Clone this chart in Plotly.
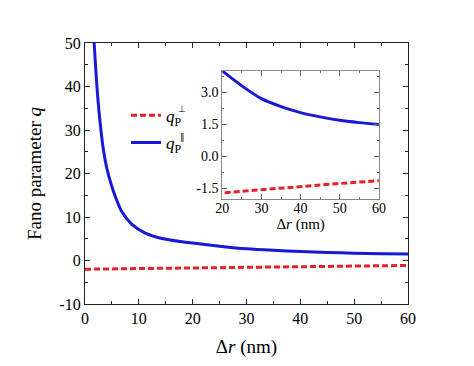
import plotly.graph_objects as go

# Data
r_par = [1.7, 2.2, 2.7, 3.3, 4.0, 4.8, 5.6, 6.8, 8.7, 11.2, 14.3, 18, 20, 25, 30, 35, 40, 45, 50, 55, 60]
q_par = [50, 40.3, 33, 26.5, 21.5, 17.8, 14.8, 11.3, 8.3, 6.3, 5.05, 4.3, 4.0, 3.3, 2.7, 2.33,
         2.05, 1.85, 1.69, 1.58, 1.49]
r_perp = [0, 10, 20, 30, 40, 50, 60]
q_perp = [-2.0, -1.85, -1.70, -1.55, -1.41, -1.27, -1.14]
y_ticks = [-10, 0, 10, 20, 30, 40, 50]
y_ticktext = ["-10", "0", "10", "20", "30", "40", "50"]
y2_ticks = [-1.5, 0.0, 1.5, 3.0]
y2_ticktext = ["-1.5", "0.0", "1.5", "3.0"]

RED = "#e8202a"
BLUE = "#1818d6"
FONT = "Liberation Serif"

fig = go.Figure()
fig.add_trace(go.Scatter(x=r_perp, y=q_perp, mode="lines", name="<i>q</i><sub>P</sub>",
                         legendgroup="a",
                         line=dict(color=RED, width=3, dash="6px,3px")))
fig.add_trace(go.Scatter(x=r_par, y=q_par, mode="lines", name="<i>q</i><sub>P</sub>",
                         legendgroup="b",
                         line=dict(color=BLUE, width=3, shape="spline", smoothing=0.8)))
fig.add_trace(go.Scatter(x=r_perp, y=q_perp, mode="lines", showlegend=False,
                         line=dict(color=RED, width=3, dash="6px,3px"), xaxis="x2", yaxis="y2"))
fig.add_trace(go.Scatter(x=r_par, y=q_par, mode="lines", showlegend=False,
                         line=dict(color=BLUE, width=3, shape="spline", smoothing=0.8),
                         xaxis="x2", yaxis="y2"))

axis_common = dict(showgrid=False, zeroline=False, showline=True, mirror="allticks",
                   ticks="inside", ticklen=5, tickwidth=1, automargin=False)

fig.update_layout(
    width=458, height=350,
    margin=dict(l=77, r=58, t=35, b=54),
    paper_bgcolor="white", plot_bgcolor="white",
    font=dict(family=FONT, color="black", size=15),
    xaxis=dict(range=[0, 60], dtick=10, linecolor="#222", linewidth=1.3, tickcolor="#222",
               minor=dict(ticks="inside", dtick=5, ticklen=3, tickcolor="#222"),
               title=dict(text="Δ<i>r</i> (nm)", font=dict(size=19), standoff=14),
               tickfont=dict(size=16), **axis_common),
    yaxis=dict(range=[-10, 50], tickvals=y_ticks, ticktext=y_ticktext,
               linecolor="#222", linewidth=1.3, tickcolor="#222",
               minor=dict(ticks="inside", dtick=5, ticklen=3, tickcolor="#222"),
               title=dict(text="Fano parameter <i>q</i>", font=dict(size=19), standoff=12),
               tickfont=dict(size=16), **axis_common),
    xaxis2=dict(domain=[0.425, 0.910], anchor="y2", range=[20, 60], dtick=10,
                linecolor="#888", linewidth=1, tickcolor="#666",
                minor=dict(ticks="inside", dtick=5, ticklen=2, tickcolor="#666"),
                title=dict(text="Δ<i>r</i> (nm)", font=dict(size=15), standoff=0),
                ticklabelstandoff=-4,
                tickfont=dict(size=14), **axis_common),
    yaxis2=dict(domain=[0.402, 0.893], anchor="x2", range=[-2, 4],
                tickvals=y2_ticks, ticktext=y2_ticktext,
                linecolor="#888", linewidth=1, tickcolor="#666",
                minor=dict(ticks="inside", dtick=0.75, ticklen=2, tickcolor="#666"),
                tickfont=dict(size=14), **axis_common),
    legend=dict(x=0.127, y=0.79, xanchor="left", yanchor="top", bgcolor="rgba(0,0,0,0)",
                font=dict(size=17), tracegroupgap=2, traceorder="grouped"),
    showlegend=True,
)

# stacked superscripts for legend labels
fig.add_annotation(xref="paper", yref="paper", x=(182 - 85) / 323, y=(304 - 109) / 261.3,
                   xanchor="center", yanchor="middle",
                   text="⊥", showarrow=False, font=dict(size=9, family="DejaVu Sans", color="black"))
fig.add_annotation(xref="paper", yref="paper", x=(182 - 85) / 323, y=(304 - 137) / 261.3,
                   xanchor="center", yanchor="middle",
                   text="∥", showarrow=False, font=dict(size=9, family="DejaVu Sans", color="black"))

fig.write_html("out.html")
